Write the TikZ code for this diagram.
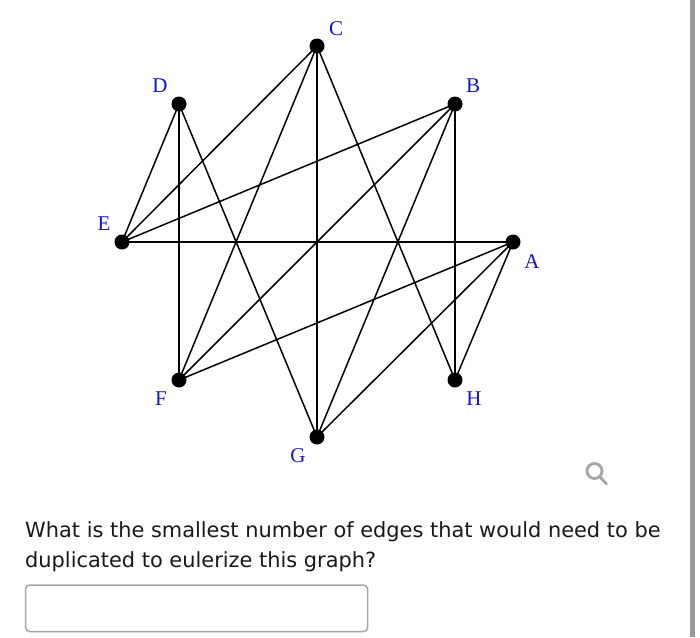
\documentclass[tikz,border=0pt]{standalone}
\usepackage{fontspec}
\setmainfont{Liberation Serif}
\newfontfamily\uifont{DejaVu Sans}
\definecolor{lblblue}{RGB}{20,20,200}
\begin{document}
\begin{tikzpicture}[x=1pt,y=-1pt,
  vertexdot/.style={circle,fill=black,inner sep=0pt,minimum size=15pt},
  edgeline/.style={draw=black,line width=1.5pt},
  vlabel/.style={text=lblblue,font=\fontsize{21}{23}\selectfont,inner sep=0pt},
  question/.style={font=\uifont\fontsize{20.9}{30}\selectfont,text=black!90,inner sep=0pt,anchor=base west}]
\useasboundingbox (0,0) rectangle (700,637);
\fill[white] (0,0) rectangle (700,637);
\fill[black!40] (690,0) rectangle (695,637);
\node[vertexdot] (A) at (513,242) {};
\node[vertexdot] (B) at (455,104) {};
\node[vertexdot] (C) at (317,46) {};
\node[vertexdot] (D) at (179,104) {};
\node[vertexdot] (E) at (122,242) {};
\node[vertexdot] (F) at (179,380) {};
\node[vertexdot] (G) at (317,437) {};
\node[vertexdot] (H) at (455,380) {};
\foreach \u/\v in {E/D,E/C,E/B,E/A,D/F,D/G,C/F,C/G,C/H,B/F,B/G,B/H,A/F,A/G,A/H}
  \draw[edgeline] (\u.center) -- (\v.center);
\node[vlabel] (la) at (532,262) {A};
\node[vlabel] (lb) at (473,86) {B};
\node[vlabel] (lc) at (336,29) {C};
\node[vlabel] (ld) at (160,86) {D};
\node[vlabel] (le) at (104,224) {E};
\node[vlabel] (lf) at (161,399) {F};
\node[vlabel] (lg) at (298,456) {G};
\node[vlabel] (lh) at (474,399) {H};
\draw[black!35,line width=2.8pt] (594.5,471) circle (7.5pt);
\draw[black!35,line width=2.8pt,line cap=round] (600,477) -- (606.5,484);
\node[question] (q1) at (25,537) {What is the smallest number of edges that would need to be};
\node[question] (q2) at (25,567) {duplicated to eulerize this graph?};
\draw[black!35,fill=white,line width=1.5pt,rounded corners=4pt] (25.5,585) rectangle (367.5,631.5);
\end{tikzpicture}
\end{document}
